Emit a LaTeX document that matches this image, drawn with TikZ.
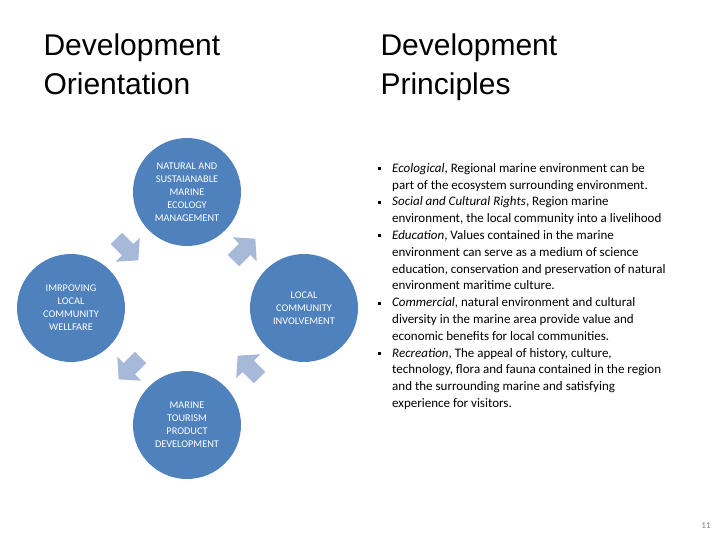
\documentclass[tikz,border=0pt]{standalone}
\usepackage{fontspec}
\setmainfont{Carlito}
\newfontfamily\arialf{Liberation Sans}
\definecolor{cblue}{HTML}{4F81BD}
\definecolor{ablue}{HTML}{A7B9D9}
\begin{document}
\begin{tikzpicture}[x=1pt,y=-1pt,
  circ/.style={circle,fill=cblue,minimum size=108pt,inner sep=0pt,text=white,align=center,font=\fontsize{10.3}{13}\selectfont},
  barrow/.pic={\fill[ablue] (-15,-8) -- (1,-8) -- (1,-17) -- (16,0) -- (1,17) -- (1,8) -- (-15,8) -- cycle;},
  title/.style={anchor=north west,align=left,font=\arialf\fontsize{30}{39}\selectfont},
  bul/.style={}]
\useasboundingbox (0,0) rectangle (720,540);
\node[title] (t1) at (40,30) {Development\\Orientation};
\node[title] (t2) at (377,30) {Development\\Principles};
\node[circ] (c1) at (187,192) {NATURAL AND\\SUSTAIANABLE\\MARINE\\ECOLOGY\\MANAGEMENT};
\node[circ] (c2) at (304,308) {LOCAL\\COMMUNITY\\INVOLVEMENT};
\node[circ] (c3) at (187,425) {MARINE\\TOURISM\\PRODUCT\\DEVELOPMENT};
\node[circ] (c4) at (71,308) {IMRPOVING\\LOCAL\\COMMUNITY\\WELLFARE};
\pic[rotate=45] at (244,250) {barrow};
\pic[rotate=135] at (249,367) {barrow};
\pic[rotate=225] at (130,368) {barrow};
\pic[rotate=-45] at (127,249) {barrow};
\newcommand\bl{\makebox[14pt][l]{\raisebox{2pt}{\rule{3pt}{3pt}}}}
\node[anchor=north west,align=left,inner sep=0pt,font=\fontsize{13}{16.8}\selectfont] (txt) at (378,163) {%
\bl\textit{Ecological}, Regional marine environment can be\\
\hspace{14pt}part of the ecosystem surrounding environment.\\
\bl\textit{Social and Cultural Rights}, Region marine\\
\hspace{14pt}environment, the local community into a livelihood\\
\bl\textit{Education}, Values contained in the marine\\
\hspace{14pt}environment can serve as a medium of science\\
\hspace{14pt}education, conservation and preservation of natural\\
\hspace{14pt}environment maritime culture.\\
\bl\textit{Commercial}, natural environment and cultural\\
\hspace{14pt}diversity in the marine area provide value and\\
\hspace{14pt}economic benefits for local communities.\\
\bl\textit{Recreation}, The appeal of history, culture,\\
\hspace{14pt}technology, flora and fauna contained in the region\\
\hspace{14pt}and the surrounding marine and satisfying\\
\hspace{14pt}experience for visitors.};
\node[text=gray,font=\fontsize{9}{10}\selectfont] (pg) at (706,526) {11};
\end{tikzpicture}
\end{document}
